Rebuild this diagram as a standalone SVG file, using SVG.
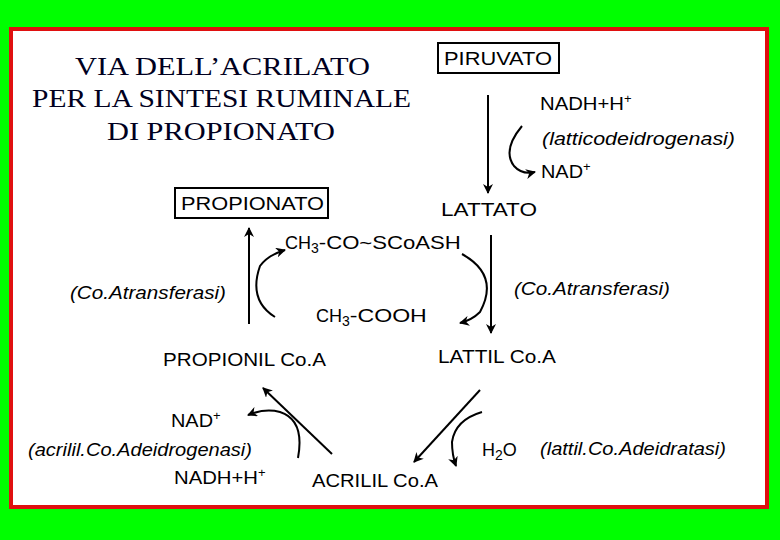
<svg xmlns="http://www.w3.org/2000/svg" width="780" height="540" viewBox="0 0 780 540">
<defs>
<marker id="ah" viewBox="0 0 10 10" refX="9" refY="5" markerWidth="10" markerHeight="10" markerUnits="userSpaceOnUse" orient="auto"><path d="M0,0 L10,5 L0,10 L3,5 z" fill="#000"/></marker>
<style>
.t{font-family:"Liberation Sans",Arial,sans-serif;font-size:18px;fill:#000}
.i{font-family:"Liberation Sans",Arial,sans-serif;font-size:18px;font-style:italic;fill:#000}
.ti{font-family:"Liberation Serif","Times New Roman",serif;font-size:26px;fill:#000020}
.l{stroke:#000;stroke-width:2;fill:none;marker-end:url(#ah)}
.box{fill:none;stroke:#000;stroke-width:2}
</style>
</defs>
<rect width="780" height="540" fill="#00ff00"/>
<rect x="11" y="29" width="756" height="478" fill="#fff" stroke="#e01010" stroke-width="4"/>
<g id="title">
<text class="ti" x="75" y="75" textLength="295" lengthAdjust="spacingAndGlyphs">VIA DELL’ACRILATO</text>
<text class="ti" x="32" y="107" textLength="379" lengthAdjust="spacingAndGlyphs">PER LA SINTESI RUMINALE</text>
<text class="ti" x="107" y="140" textLength="228" lengthAdjust="spacingAndGlyphs">DI PROPIONATO</text>
</g>
<g id="piruvato"><rect class="box" x="438" y="43" width="121" height="30"/><text class="t" x="444" y="65" textLength="108" lengthAdjust="spacingAndGlyphs">PIRUVATO</text></g>
<g id="propionato"><rect class="box" x="175" y="188" width="153" height="30"/><text class="t" x="181" y="210" textLength="143" lengthAdjust="spacingAndGlyphs">PROPIONATO</text></g>
<g id="lattato"><text class="t" x="441" y="216" textLength="96" lengthAdjust="spacingAndGlyphs">LATTATO</text></g>
<g id="lattilcoa"><text class="t" x="438" y="363" textLength="118" lengthAdjust="spacingAndGlyphs">LATTIL Co.A</text></g>
<g id="acrilil"><text class="t" x="312" y="487" textLength="126" lengthAdjust="spacingAndGlyphs">ACRILIL Co.A</text></g>
<g id="propionil"><text class="t" x="163" y="366" textLength="163" lengthAdjust="spacingAndGlyphs">PROPIONIL Co.A</text></g>
<g id="labels">
<text class="t" x="540" y="110"><tspan textLength="84" lengthAdjust="spacingAndGlyphs">NADH+H</tspan><tspan font-size="13" dy="-7">+</tspan></text>
<text class="i" x="542" y="145" textLength="193" lengthAdjust="spacingAndGlyphs">(latticodeidrogenasi)</text>
<text class="t" x="541" y="178"><tspan textLength="42" lengthAdjust="spacingAndGlyphs">NAD</tspan><tspan font-size="13" dy="-7">+</tspan></text>
<text class="t" x="285" y="249"><tspan textLength="26" lengthAdjust="spacingAndGlyphs">CH</tspan><tspan font-size="14" dy="4">3</tspan><tspan dy="-4" textLength="142" lengthAdjust="spacingAndGlyphs">-CO~SCoASH</tspan></text>
<text class="t" x="316" y="322"><tspan textLength="26" lengthAdjust="spacingAndGlyphs">CH</tspan><tspan font-size="14" dy="4">3</tspan><tspan dy="-4" textLength="77" lengthAdjust="spacingAndGlyphs">-COOH</tspan></text>
<text class="i" x="70" y="299" textLength="156" lengthAdjust="spacingAndGlyphs">(Co.Atransferasi)</text>
<text class="i" x="514" y="295" textLength="156" lengthAdjust="spacingAndGlyphs">(Co.Atransferasi)</text>
<text class="t" x="171" y="427"><tspan textLength="42" lengthAdjust="spacingAndGlyphs">NAD</tspan><tspan font-size="13" dy="-7">+</tspan></text>
<text class="i" x="28" y="456" textLength="224" lengthAdjust="spacingAndGlyphs">(acrilil.Co.Adeidrogenasi)</text>
<text class="t" x="174" y="484"><tspan textLength="84" lengthAdjust="spacingAndGlyphs">NADH+H</tspan><tspan font-size="13" dy="-7">+</tspan></text>
<text class="t" x="482" y="456">H<tspan font-size="14" dy="4">2</tspan><tspan dy="-4">O</tspan></text>
<text class="i" x="540" y="455" textLength="186" lengthAdjust="spacingAndGlyphs">(lattil.Co.Adeidratasi)</text>
</g>
<g id="connectors">
<path class="l" d="M488 95 L488 193"/>
<path class="l" d="M491 235 L491 333"/>
<path class="l" d="M249 324 L249 228"/>
<path class="l" d="M522 126 Q502 150 514 166 Q522 175 535 172"/>
<path class="l" d="M462 254 Q500 275 480 312 Q472 320 460 323"/>
<path class="l" d="M275 317 Q248 300 260 266 Q268 255 285 250"/>
<path class="l" d="M332 454 L263 388"/>
<path class="l" d="M298 458 Q305 420 280 412 Q265 408 248 415"/>
<path class="l" d="M480 390 L414 462"/>
<path class="l" d="M482 412 Q455 420 452 442 Q452 455 456 466"/>
</g>
</svg>
